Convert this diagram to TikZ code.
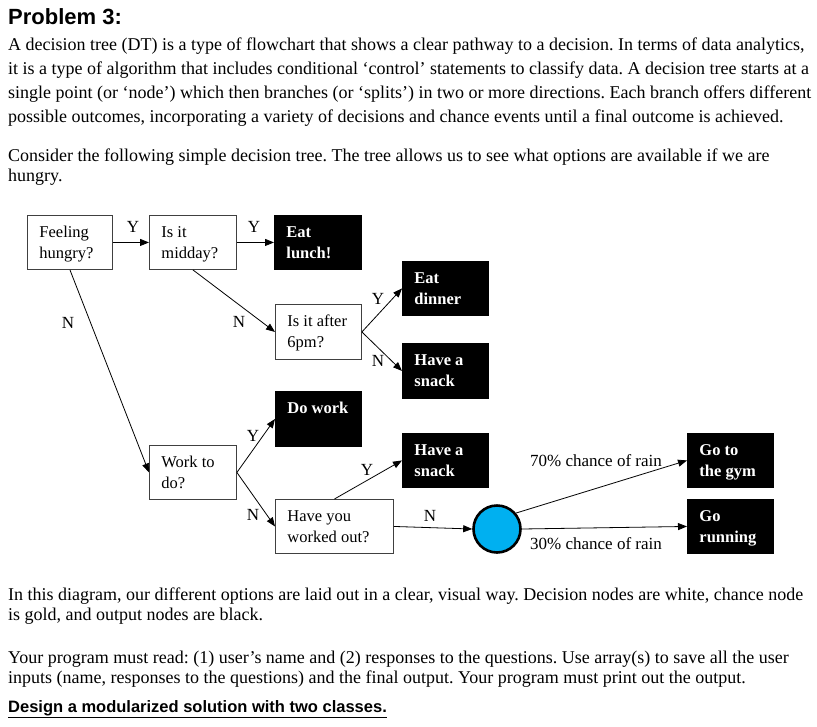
\documentclass[tikz,border=0pt]{standalone}
\usepackage{fontspec}
\setmainfont{Liberation Serif}
\newfontfamily\headfont{Liberation Sans}
\usetikzlibrary{arrows.meta}
\definecolor{chanceblue}{HTML}{00B0F0}
\definecolor{boxgray}{HTML}{404040}
\frenchspacing
\newcommand\bx[3]{\hspace*{12pt}\parbox[c][#2][t]{\dimexpr#1-12pt\relax}{\raggedright\rule{0pt}{22pt}#3}}
\tikzset{
  body/.style={anchor=base west, inner sep=0pt, font=\fontsize{18}{22}\selectfont},
  dec/.style={draw=boxgray, line width=0.9pt, inner sep=0pt, anchor=north west, font=\fontsize{16.5}{21}\selectfont},
  outbox/.style={fill=black, draw=black, line width=0.9pt, text=white, inner sep=0pt, anchor=north west, font=\bfseries\fontsize{16.5}{21}\selectfont},
  arr/.style={-{Triangle[length=9pt,width=7pt]}, line width=0.8pt},
  lab/.style={inner sep=0pt, font=\fontsize{17}{20}\selectfont},
}
\begin{document}
\begin{tikzpicture}[x=1pt,y=-1pt]
\fill[white] (0,0) rectangle (817,726);
\useasboundingbox (0,0) rectangle (817,726);
% title and text
\node[anchor=base west, inner sep=0pt, font=\headfont\bfseries\fontsize{22}{26}\selectfont] (title) at (8,24) {Problem 3:};
\node[body] (t1) at (8,50) {A decision tree (DT) is a type of flowchart that shows a clear pathway to a decision. In terms of data analytics,};
\node[body] (t2) at (8,74) {it is a type of algorithm that includes conditional ‘control’ statements to classify data. A decision tree starts at a};
\node[body] (t3) at (8,98) {single point (or ‘node’) which then branches (or ‘splits’) in two or more directions. Each branch offers different};
\node[body] (t4) at (8,122) {possible outcomes, incorporating a variety of decisions and chance events until a final outcome is achieved.};
\node[body] (t5) at (8,161) {Consider the following simple decision tree. The tree allows us to see what options are available if we are};
\node[body] (t6) at (8,181) {hungry.};
\node[body] (b1) at (8,600) {In this diagram, our different options are laid out in a clear, visual way. Decision nodes are white, chance node};
\node[body] (b2) at (8,620) {is gold, and output nodes are black.};
\node[body] (b3) at (8,663) {Your program must read: (1) user’s name and (2) responses to the questions. Use array(s) to save all the user};
\node[body] (b4) at (8,683) {inputs (name, responses to the questions) and the final output. Your program must print out the output.};
\node[anchor=base west, inner sep=0pt, font=\headfont\bfseries\fontsize{16.5}{20}\selectfont] (design) at (8,712) {\underline{Design a modularized solution with two classes.}};
% boxes
\node[dec] (fh) at (27,215) {\bx{85pt}{54pt}{Feeling\\hungry?}};
\node[dec] (mid) at (149,215) {\bx{87pt}{54pt}{Is it\\midday?}};
\node[outbox] (lunch) at (274,215) {\bx{87pt}{54pt}{Eat\\lunch!}};
\node[outbox] (dinner) at (402,261) {\bx{86pt}{54pt}{Eat\\dinner}};
\node[dec] (six) at (275,304) {\bx{86pt}{55pt}{Is it after\\6pm?}};
\node[outbox] (snacka) at (402,343) {\bx{86pt}{55pt}{Have a\\snack}};
\node[outbox] (work) at (275,391) {\bx{86pt}{55pt}{Do work}};
\node[dec] (wtd) at (149,445) {\bx{87pt}{54pt}{Work to\\do?}};
\node[outbox] (snackb) at (402,433) {\bx{86pt}{54pt}{Have a\\snack}};
\node[dec] (wo) at (275,499) {\bx{118pt}{54pt}{Have you\\worked out?}};
\node[outbox] (gym) at (687,433) {\bx{86pt}{54pt}{Go to\\the gym}};
\node[outbox] (run) at (687,499) {\bx{86pt}{54pt}{Go\\running}};
\node[circle, draw=black, line width=2.6pt, fill=chanceblue, minimum size=47pt, inner sep=0pt] (ch) at (497,529) {};
% connectors
\draw[arr] (fh.east) -- (mid.west);
\draw[arr] (mid.east) -- (lunch.west);
\draw[arr] (mid.south) -- (six.west);
\draw[arr] (six.east) -- (dinner.west);
\draw[arr] (six.east) -- (snacka.west);
\draw[arr] (fh.south) -- (wtd.west);
\draw[arr] (wtd.east) -- (work.west);
\draw[arr] (wtd.east) -- (wo.west);
\draw[arr] (wo.north) -- (snackb.west);
\draw[arr] (wo.east) -- (ch.west);
\draw[arr] (ch.40) -- (gym.west);
\draw[arr] (ch.east) -- (run.west);
% labels
\node[lab] (ly1) at (133,227) {Y};
\node[lab] (ly2) at (254,227) {Y};
\node[lab] (ln1) at (239,322) {N};
\node[lab] (ly3) at (378,299) {Y};
\node[lab] (ln2) at (378,361) {N};
\node[lab] (ln3) at (68,323) {N};
\node[lab] (ly4) at (253,436) {Y};
\node[lab] (ln4) at (253,515) {N};
\node[lab] (ly5) at (367,470) {Y};
\node[lab] (ln5) at (430,516) {N};
\node[lab] (l70) at (596,461) {70\% chance of rain};
\node[lab] (l30) at (596,544) {30\% chance of rain};
\end{tikzpicture}
\end{document}
